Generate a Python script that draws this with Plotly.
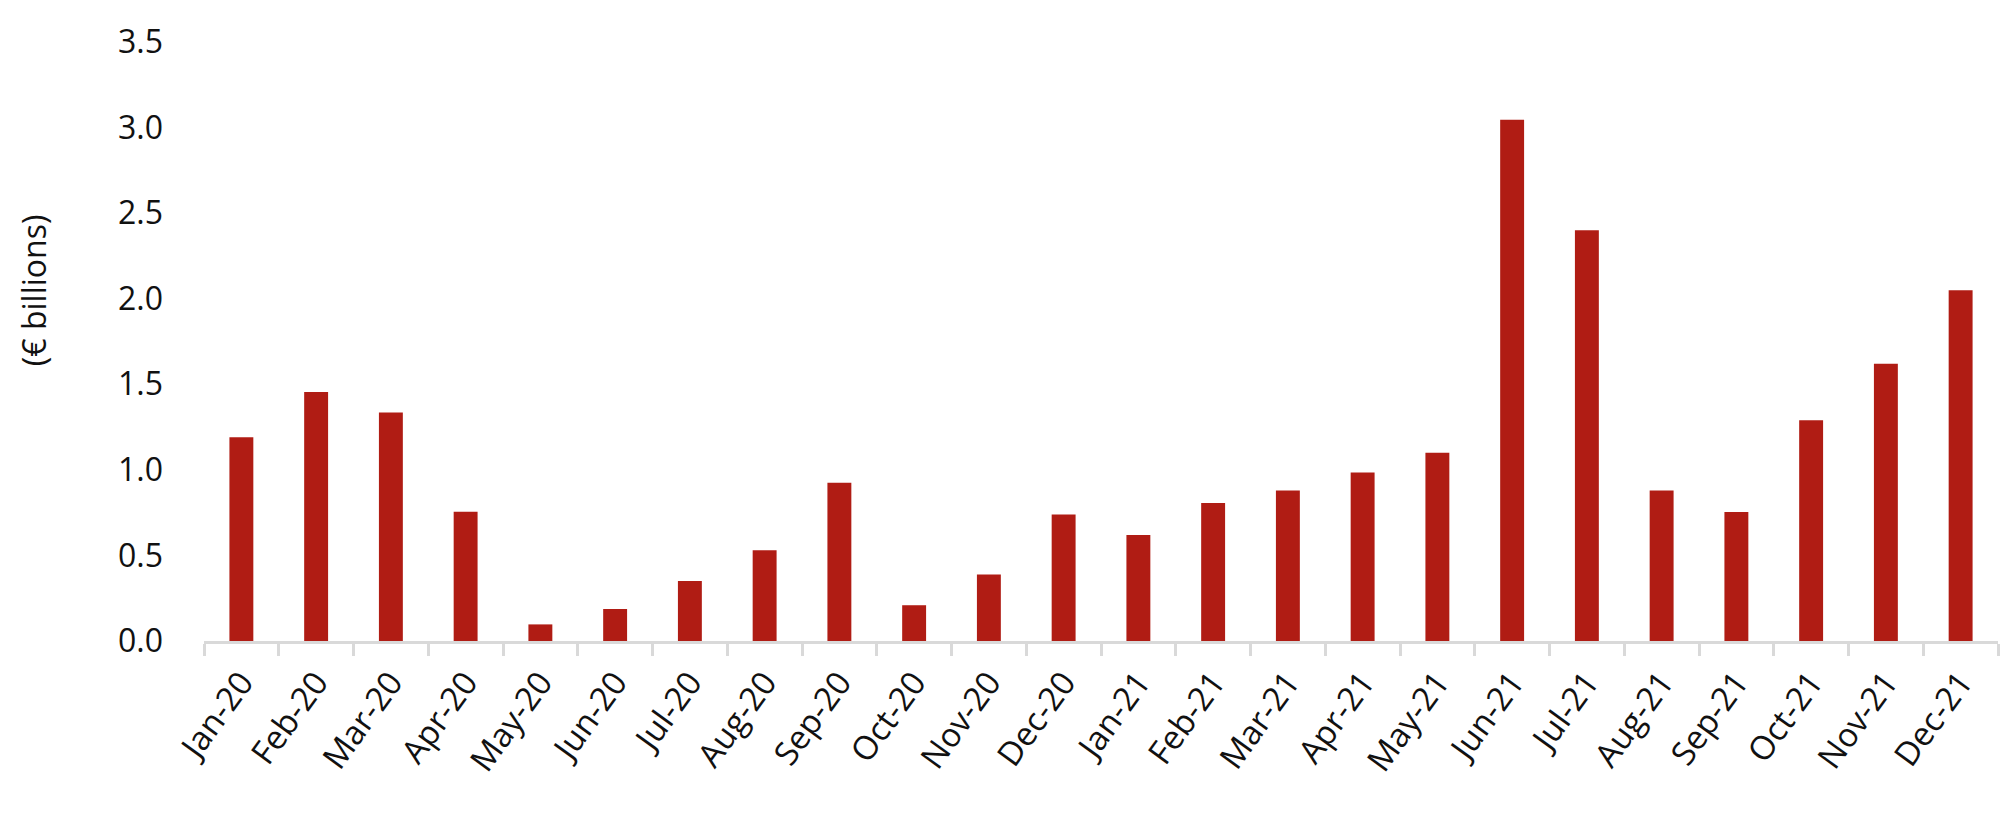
import plotly.graph_objects as go

months = [
    "Jan-20", "Feb-20", "Mar-20", "Apr-20", "May-20", "Jun-20",
    "Jul-20", "Aug-20", "Sep-20", "Oct-20", "Nov-20", "Dec-20",
    "Jan-21", "Feb-21", "Mar-21", "Apr-21", "May-21", "Jun-21",
    "Jul-21", "Aug-21", "Sep-21", "Oct-21", "Nov-21", "Dec-21",
]
values = [
    1.19, 1.455, 1.335, 0.755, 0.097, 0.187,
    0.35, 0.53, 0.925, 0.209, 0.388, 0.739,
    0.619, 0.806, 0.88, 0.985, 1.10, 3.045,
    2.40, 0.88, 0.754, 1.29, 1.62, 2.05,
]
y_ticks = [0.0, 0.5, 1.0, 1.5, 2.0, 2.5, 3.0, 3.5]

font_family = "Open Sans, Noto Sans, sans-serif"

fig = go.Figure(
    go.Bar(x=months, y=values, marker=dict(color="#B01C14", line=dict(width=0)))
)

fig.update_layout(
    width=2000,
    height=828,
    margin=dict(l=204, r=2, t=42, b=187),
    plot_bgcolor="white",
    paper_bgcolor="white",
    bargap=0.68,
    showlegend=False,
    font=dict(family=font_family, size=32, color="#111111"),
)

fig.update_xaxes(
    type="category",
    tickangle=-54,
    showline=True,
    linecolor="#D9D9D9",
    linewidth=2.5,
    ticks="outside",
    tickson="boundaries",
    ticklen=12,
    tickwidth=2.5,
    tickcolor="#D9D9D9",
    showgrid=False,
    ticklabelstandoff=6,
    tickfont=dict(size=33),
)

fig.update_yaxes(
    range=[0, 3.5],
    tickvals=y_ticks,
    tickformat=".1f",
    showgrid=False,
    zeroline=False,
    showline=False,
    ticklabelstandoff=40,
    tickfont=dict(size=32),
)

# y-axis caption, sits a bit above the plot centre in the source chart
fig.add_annotation(
    text="(€ billions)",
    xref="paper",
    yref="paper",
    x=-0.095,
    y=0.585,
    xanchor="center",
    yanchor="middle",
    textangle=-90,
    showarrow=False,
    font=dict(size=32),
)

# drop the default 8px body margin so the figure fills the window exactly
fig.write_html(
    "out.html",
    config={"displayModeBar": False},
    post_script="document.body.style.margin='0';document.body.style.overflow='hidden';",
)
